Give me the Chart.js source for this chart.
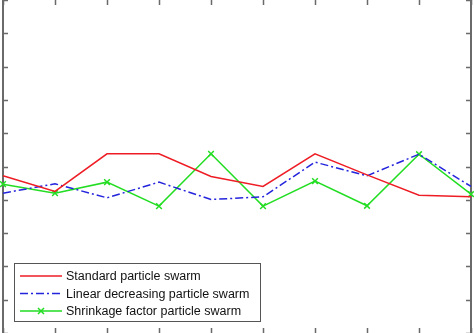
<!DOCTYPE html>
<html>
<head>
<meta charset="utf-8">
<script src="https://cdn.jsdelivr.net/npm/chart.js@4.4.0/dist/chart.umd.min.js"></script>
<style>
  html, body { margin: 0; padding: 0; background: #fff; }
  #contenedor { width: 474px; height: 333px; position: relative; }
</style>
</head>
<body>
<div id="contenedor"><canvas id="grafica_enjambre"></canvas></div>
<script>
// Iteraciones del eje x y valores de cada variante del enjambre
const iteraciones = [1, 2, 3, 4, 5, 6, 7, 8, 9, 10];
const estandar    = [4.72, 4.25, 5.38, 5.38, 4.70, 4.40, 5.38, 4.75, 4.14, 4.09];
const lineal      = [4.20, 4.48, 4.06, 4.53, 4.01, 4.09, 5.13, 4.72, 5.37, 4.40];
const contraccion = [4.47, 4.20, 4.53, 3.81, 5.38, 3.81, 4.56, 3.82, 5.37, 4.17];
const marcasY     = [0, 1, 2, 3, 4, 5, 6, 7, 8, 9, 10];

const nombres = [
  "Standard particle swarm",
  "Linear decreasing particle swarm",
  "Shrinkage factor particle swarm"
];

const fuente = '"Liberation Sans", Arial, Helvetica, sans-serif';

// marco izquierdo/derecho y marcas hacia adentro, estilo matlab
const marcoEjes = {
  id: 'marcoEjes',
  beforeDatasetsDraw(chart) {
    const { ctx, chartArea: a, scales: { x, y } } = chart;
    ctx.save();
    ctx.strokeStyle = '#6a6a6a';
    ctx.lineWidth = 2;
    ctx.beginPath();
    ctx.moveTo(a.left, a.top);  ctx.lineTo(a.left, a.bottom);
    ctx.moveTo(a.right, a.top); ctx.lineTo(a.right, a.bottom);
    ctx.stroke();

    ctx.lineWidth = 1.5;
    ctx.beginPath();
    iteraciones.forEach((it, i) => {
      const px = Math.round(x.getPixelForValue(i)) + 0.5;
      ctx.moveTo(px, a.top);    ctx.lineTo(px, a.top + 5);
      ctx.moveTo(px, a.bottom); ctx.lineTo(px, a.bottom - 5);
    });
    marcasY.forEach(v => {
      const py = Math.round(y.getPixelForValue(v)) + 0.5;
      ctx.moveTo(a.left, py);  ctx.lineTo(a.left + 5, py);
      ctx.moveTo(a.right, py); ctx.lineTo(a.right - 5, py);
    });
    ctx.stroke();
    ctx.restore();
  }
};

// leyenda dentro del área, abajo a la izquierda
const leyendaInterna = {
  id: 'leyendaInterna',
  afterDatasetsDraw(chart) {
    const { ctx, chartArea: a } = chart;
    const x0 = a.left + 11, w = 246, h = 58;
    const y0 = a.bottom - 12 - h;
    ctx.save();
    ctx.fillStyle = '#fff';
    ctx.fillRect(x0, y0, w, h);
    ctx.strokeStyle = '#555';
    ctx.lineWidth = 1;
    ctx.strokeRect(x0 + 0.5, y0 + 0.5, w, h);

    ctx.font = '12.5px ' + fuente;
    ctx.textBaseline = 'middle';
    chart.data.datasets.forEach((ds, i) => {
      const yy = y0 + 13 + i * 17.5;
      ctx.strokeStyle = ds.borderColor;
      ctx.lineWidth = ds.borderWidth;
      ctx.setLineDash(ds.borderDash || []);
      ctx.beginPath();
      ctx.moveTo(x0 + 6, yy);
      ctx.lineTo(x0 + 48, yy);
      ctx.stroke();
      ctx.setLineDash([]);
      if (ds.pointRadius > 0) {
        const r = 3, cx = x0 + 27;
        ctx.beginPath();
        ctx.moveTo(cx - r, yy - r); ctx.lineTo(cx + r, yy + r);
        ctx.moveTo(cx + r, yy - r); ctx.lineTo(cx - r, yy + r);
        ctx.stroke();
      }
      ctx.fillStyle = '#111';
      ctx.fillText(ds.label, x0 + 52, yy + 1);
    });
    ctx.restore();
  }
};

const ctx = document.getElementById("grafica_enjambre").getContext("2d");

new Chart(ctx, {
  type: 'line',
  data: {
    labels: iteraciones,
    datasets: [
      {
        label: nombres[0],
        data: estandar,
        borderColor: '#ee1c24',
        borderWidth: 1.5,
        pointRadius: 0,
        tension: 0,
        clip: false
      },
      {
        label: nombres[1],
        data: lineal,
        borderColor: '#2424dd',
        borderWidth: 1.5,
        borderDash: [8, 3, 2, 3],
        pointRadius: 0,
        tension: 0,
        clip: false
      },
      {
        label: nombres[2],
        data: contraccion,
        borderColor: '#22dd22',
        borderWidth: 1.5,
        pointStyle: 'crossRot',
        pointRadius: 4,
        pointBorderWidth: 1.5,
        pointBorderColor: '#22dd22',
        tension: 0,
        clip: false
      }
    ]
  },
  options: {
    responsive: true,
    maintainAspectRatio: false,
    animation: false,
    layout: { autoPadding: false, padding: { left: 3, right: 3, top: 0, bottom: 0 } },
    scales: {
      x: { display: false, offset: false },
      y: { display: false, min: 0, max: 10 }
    },
    plugins: {
      legend: { display: false },
      tooltip: { enabled: false }
    }
  },
  plugins: [marcoEjes, leyendaInterna]
});
</script>
</body>
</html>
